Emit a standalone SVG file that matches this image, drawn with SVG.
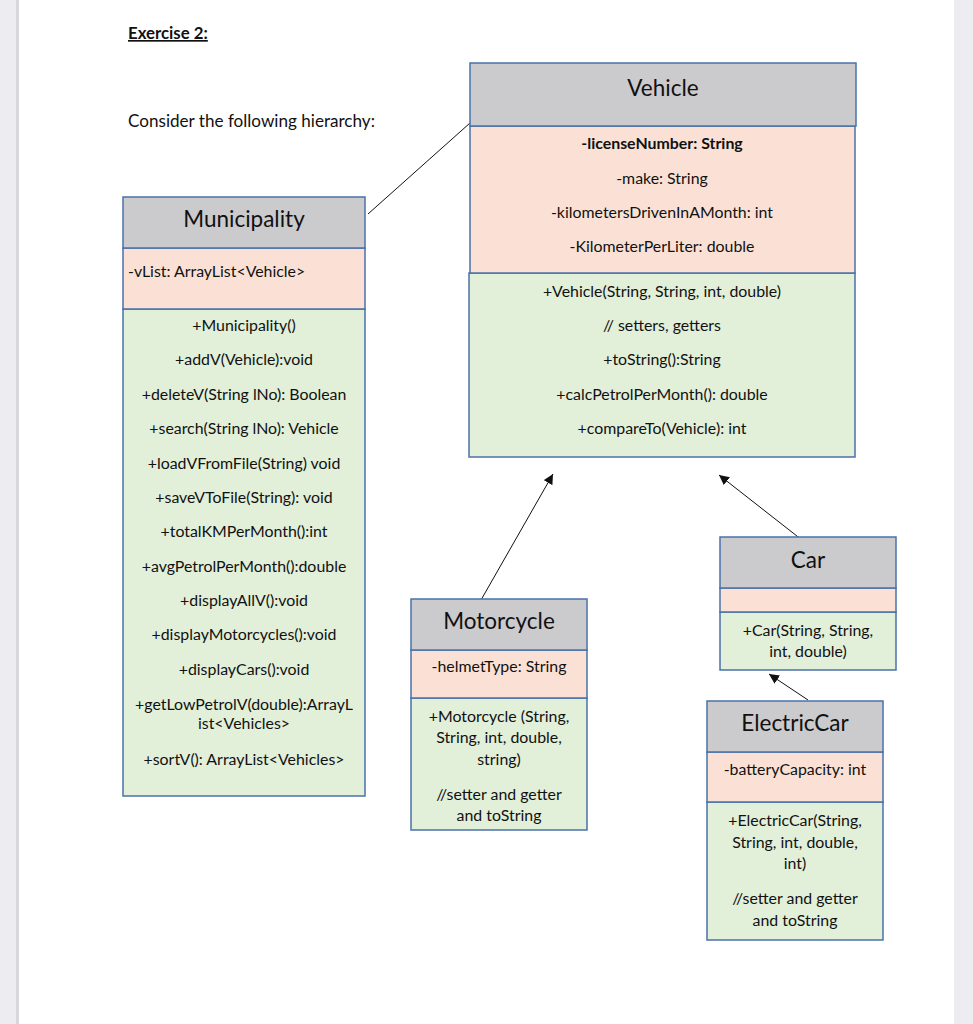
<svg xmlns="http://www.w3.org/2000/svg" width="973" height="1024" viewBox="0 0 973 1024">
<defs>
<style>
.t{font-family:Lato,"Open Sans","Liberation Sans",sans-serif;font-size:15.9px;fill:#111;text-anchor:middle}
.h{font-family:Lato,"Open Sans","Liberation Sans",sans-serif;font-size:22.5px;fill:#111;text-anchor:middle}
.l{text-anchor:start}
.hd{fill:#CBCACD;stroke:#4A72A8;stroke-width:1.5}
.at{fill:#FBE1D5;stroke:#4A72A8;stroke-width:1.5}
.me{fill:#E2EFD9;stroke:#4A72A8;stroke-width:1.5}
.c{stroke:#111;stroke-width:1;fill:none}
</style>
<marker id="arr" viewBox="0 0 10 10" refX="10" refY="5" markerWidth="10" markerHeight="10" markerUnits="userSpaceOnUse" orient="auto">
<path d="M0,0 L10,5 L0,10 z" fill="#111"/>
</marker>
</defs>
<rect x="0" y="0" width="973" height="1024" fill="#EDECF0"/>
<rect x="16" y="0" width="3" height="1024" fill="#D8D7DB"/>
<rect x="19" y="0" width="935" height="1024" fill="#FFFFFF"/>
<g id="text-header">
<text x="128" y="39" class="t l" style="font-weight:bold;font-size:16.8px;text-decoration:underline">Exercise 2:</text>
<text x="128" y="127" class="t l" style="font-size:17.1px">Consider the following hierarchy:</text>
</g>
<g id="connectors">
<line x1="368" y1="214" x2="470" y2="123" class="c"/>
<line x1="481" y1="600" x2="553" y2="474" class="c" marker-end="url(#arr)"/>
<line x1="802" y1="540" x2="719" y2="475" class="c" marker-end="url(#arr)"/>
<line x1="808" y1="700" x2="769" y2="674" class="c" marker-end="url(#arr)"/>
</g>
<g id="Vehicle">
<rect x="469" y="273" width="386" height="184" class="me"/>
<rect x="470" y="126" width="385" height="147" class="at"/>
<rect x="470" y="63" width="386" height="63" class="hd"/>
<text x="663" y="96" class="h">Vehicle</text>
<text x="662" y="149" class="t" style="font-weight:bold">-licenseNumber: String</text>
<text x="662" y="184" class="t">-make: String</text>
<text x="662" y="218" class="t">-kilometersDrivenInAMonth: int</text>
<text x="662" y="252" class="t">-KilometerPerLiter: double</text>
<text x="662" y="297" class="t">+Vehicle(String, String, int, double)</text>
<text x="662" y="331" class="t">// setters, getters</text>
<text x="662" y="365" class="t">+toString():String</text>
<text x="662" y="400" class="t">+calcPetrolPerMonth(): double</text>
<text x="662" y="434" class="t">+compareTo(Vehicle): int</text>
</g>
<g id="Municipality">
<rect x="123" y="309" width="242" height="487" class="me"/>
<rect x="123" y="248" width="242" height="61" class="at"/>
<rect x="123" y="197" width="242" height="51" class="hd"/>
<text x="244" y="227" class="h">Municipality</text>
<text x="128" y="277" class="t l">-vList: ArrayList&lt;Vehicle&gt;</text>
<text x="244" y="331" class="t">+Municipality()</text>
<text x="244" y="365" class="t">+addV(Vehicle):void</text>
<text x="244" y="400" class="t">+deleteV(String lNo): Boolean</text>
<text x="244" y="434" class="t">+search(String lNo): Vehicle</text>
<text x="244" y="469" class="t">+loadVFromFile(String) void</text>
<text x="244" y="503" class="t">+saveVToFile(String): void</text>
<text x="244" y="537" class="t">+totalKMPerMonth():int</text>
<text x="244" y="572" class="t">+avgPetrolPerMonth():double</text>
<text x="244" y="606" class="t">+displayAllV():void</text>
<text x="244" y="640" class="t">+displayMotorcycles():void</text>
<text x="244" y="675" class="t">+displayCars():void</text>
<text x="244" y="710" class="t">+getLowPetrolV(double):ArrayL</text>
<text x="244" y="729" class="t">ist&lt;Vehicles&gt;</text>
<text x="244" y="765" class="t">+sortV(): ArrayList&lt;Vehicles&gt;</text>
</g>
<g id="Motorcycle">
<rect x="411" y="698" width="176" height="132" class="me"/>
<rect x="411" y="650" width="176" height="48" class="at"/>
<rect x="411" y="599" width="176" height="51" class="hd"/>
<text x="499" y="629" class="h">Motorcycle</text>
<text x="499" y="672" class="t">-helmetType: String</text>
<text x="499" y="722" class="t">+Motorcycle (String,</text>
<text x="499" y="743" class="t">String, int, double,</text>
<text x="499" y="765" class="t">string)</text>
<text x="499" y="800" class="t">//setter and getter</text>
<text x="499" y="821" class="t">and toString</text>
</g>
<g id="Car">
<rect x="720" y="612" width="176" height="58" class="me"/>
<rect x="720" y="588" width="176" height="24" class="at"/>
<rect x="720" y="537" width="176" height="51" class="hd"/>
<text x="808" y="568" class="h">Car</text>
<text x="808" y="636" class="t">+Car(String, String,</text>
<text x="808" y="657" class="t">int, double)</text>
</g>
<g id="ElectricCar">
<rect x="707" y="802" width="176" height="138" class="me"/>
<rect x="707" y="752" width="176" height="50" class="at"/>
<rect x="707" y="701" width="176" height="51" class="hd"/>
<text x="795" y="731" class="h">ElectricCar</text>
<text x="795" y="775" class="t">-batteryCapacity: int</text>
<text x="795" y="826" class="t">+ElectricCar(String,</text>
<text x="795" y="848" class="t">String, int, double,</text>
<text x="795" y="869" class="t">int)</text>
<text x="795" y="904" class="t">//setter and getter</text>
<text x="795" y="926" class="t">and toString</text>
</g>
</svg>
